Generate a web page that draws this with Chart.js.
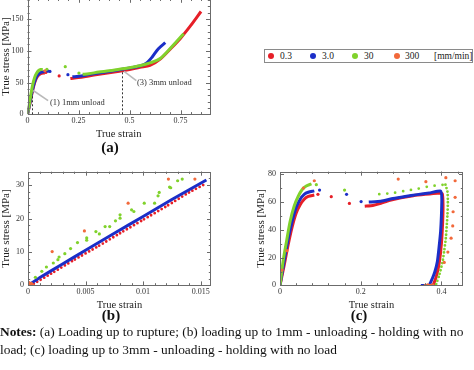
<!DOCTYPE html>
<html>
<head>
<meta charset="utf-8">
<script src="https://cdn.jsdelivr.net/npm/chart.js@4.4.1/dist/chart.umd.min.js"></script>
<style>
    body { margin: 0; width: 474px; height: 370px; overflow: hidden; background: #fff; position: relative;
           font-family: "Liberation Serif", "Times New Roman", serif; color: #222; }
    canvas { position: absolute; }
    .panel-tag { position: absolute; font-weight: bold; font-size: 15px; transform: translate(-50%, -50%); color: #111; }
    #legend { position: absolute; left: 264px; top: 49px; width: 207px; height: 12px; border: 1px solid #8a8a8a; font-size: 9.5px; }
    #legend span { position: absolute; top: 0; line-height: 12px; }
    #legend i { position: absolute; top: 3px; width: 6px; height: 6px; border-radius: 50%; }
    #notes { position: absolute; left: 0; top: 323px; width: 474px; font-size: 13.4px; line-height: 18px; color: #111; }
</style>
</head>
<body>
<canvas id="chartA" width="214" height="151" style="left:0;top:-10px"></canvas>
<canvas id="chartB" width="215" height="152" style="left:0;top:160px"></canvas>
<canvas id="chartC" width="212" height="152" style="left:255px;top:160px"></canvas>

<div class="panel-tag" style="left:110px;top:147px">(a)</div>
<div class="panel-tag" style="left:111px;top:315px">(b)</div>
<div class="panel-tag" style="left:359px;top:315px">(c)</div>

<div id="legend"></div>

<div id="notes"><b>Notes:</b> (a) Loading up to rupture; (b) loading up to 1mm - unloading - holding with no load; (c) loading up to 3mm - unloading - holding with no load</div>

<script>
// ============================================================================
// DATA
// ============================================================================

const rates = ['0.3', '3.0', '30', '300'];
const rateUnit = '[mm/min]';

// (a) loading up to rupture
const aTicksX = [0, 0.25, 0.5, 0.75];
const aTicksY = [0, 50, 100, 150];
const aRedRise = [[0, 0], [0.01, 14], [0.02, 30], [0.03, 44], [0.04, 54], [0.05, 60], [0.06, 63], [0.07, 64.5], [0.085, 65]];
const aBlueRise = [[0, 0], [0.01, 15], [0.02, 32], [0.03, 46], [0.04, 56], [0.05, 62], [0.06, 65], [0.07, 66.5], [0.085, 67.5]];
const aGreenRise = [[0, 0], [0.008, 14], [0.016, 30], [0.025, 46], [0.035, 58], [0.045, 65], [0.055, 69], [0.065, 70.5], [0.075, 70.5]];
const aRedMain = [[0.21, 56.5], [0.25, 58], [0.3, 60.5], [0.35, 63], [0.4, 65.5], [0.45, 68], [0.5, 70.5], [0.55, 74], [0.6, 77], [0.65, 87], [0.7, 103], [0.75, 120], [0.8, 140], [0.85, 162]];
const aBlueMain = [[0.22, 59], [0.25, 60], [0.3, 62.5], [0.35, 65], [0.4, 67.5], [0.45, 70], [0.5, 73], [0.55, 76], [0.58, 80], [0.61, 90], [0.64, 103], [0.675, 113]];
const aGreenMain = [[0.27, 63], [0.3, 64], [0.35, 66.5], [0.4, 68.5], [0.45, 71], [0.5, 73.5], [0.55, 76.5], [0.6, 81], [0.65, 88], [0.7, 104], [0.765, 127]];
const aRedDots = [[0.09, 66], [0.155, 60.5]];
const aBlueDots = [[0.1, 68], [0.11, 67.5], [0.198, 62.4]];
const aGreenDots = [[0.095, 71], [0.185, 75], [0.252, 65]];
const aOrangeDots = [[0.085, 68.5]];
const aUnloadMarks = [[0.023, 32], [0.465, 69]];
const aNoteText = ['(1) 1mm unload', '(3) 3mm unload'];
const aNoteAt = [[0.11, 18], [0.536, 49]];
const aNoteLeader = [[[0.101, 21.5], [0.028, 37.5]], [[0.533, 53], [0.473, 67.5]]];

// (b) loading up to 1mm
const bTicksX = [0, 0.005, 0.01, 0.015];
const bTicksY = [0, 10, 20, 30];
const bBlue = [[0, 0], [0.001, 2.3], [0.003, 6.4], [0.005, 10.5], [0.0075, 15.6], [0.01, 20.6], [0.0125, 25.7], [0.0155, 31.5]];
const bRed = [[0.0005, 0.5], [0.002, 3.5], [0.004, 7.6], [0.006, 11.5], [0.008, 15.6], [0.01, 19.6], [0.012, 23.6], [0.014, 27.8], [0.0155, 30.5]];
const bGreenDots = [[0.00064, 2.4], [0.0012, 4.2], [0.0016, 5.5], [0.0022, 6.7], [0.0026, 7.7], [0.0027, 8.5], [0.0032, 9.5],
    [0.0037, 11], [0.0043, 12.8], [0.0051, 14.2], [0.0051, 13.5], [0.0059, 16.1], [0.0062, 15.4], [0.0067, 17.6], [0.0071, 17.6],
    [0.0076, 19.3], [0.008, 21.1], [0.008, 20.1], [0.009, 22.6], [0.0092, 22.1], [0.0101, 24.6], [0.011, 24.6], [0.0113, 26.8],
    [0.0114, 27.8], [0.0123, 29.4], [0.0124, 29.2], [0.013, 31.3], [0.0134, 31.8]];
const bOrangeDots = [[0, 0], [0.0001, 0.4], [0.0002, 0.1], [0.0003, 0.6], [0.0004, 0.2], [0.0001, 0.8], [0.0021, 10.1],
    [0.0049, 16.3], [0.0087, 24.6], [0.0122, 31.8], [0.0145, 31.8]];

// (c) loading up to 3mm - unloading - holding
const cTicksX = [0, 0.2, 0.4];
const cTicksY = [0, 20, 40, 60, 80];
const cRedRise = [[0, 0], [0.01, 14], [0.02, 29], [0.03, 42], [0.04, 52], [0.05, 58], [0.06, 62], [0.07, 64], [0.085, 65]];
const cBlueRise = [[0, 0], [0.01, 17], [0.02, 33], [0.03, 46], [0.04, 56], [0.05, 62], [0.06, 65.5], [0.07, 67], [0.085, 68]];
const cGreenRise = [[0, 0], [0.008, 18], [0.017, 33], [0.025, 46], [0.035, 57], [0.045, 64], [0.055, 69], [0.065, 71.5], [0.078, 73]];
const cRedMain = [[0.21, 57], [0.23, 57.5], [0.25, 59], [0.27, 61], [0.3, 63], [0.33, 64.5], [0.36, 65.5], [0.39, 66.3], [0.402, 66],
    [0.404, 58], [0.403, 45], [0.4, 30], [0.395, 17], [0.388, 7], [0.382, 2], [0.378, 0], [0.358, 0]];
const cBlueMain = [[0.22, 60], [0.25, 60.5], [0.28, 62.5], [0.31, 64], [0.34, 65.3], [0.37, 66.5], [0.398, 67.9], [0.401, 62.7],
    [0.4, 50], [0.398, 38.7], [0.394, 27], [0.39, 17.2], [0.384, 10], [0.378, 5.3], [0.372, 1.5], [0.37, 0], [0.349, 0]];
const cGreenTop = [[0.246, 65.6], [0.28, 66.5], [0.31, 68], [0.34, 69.4], [0.365, 71], [0.39, 72], [0.41, 72.5]];
const cGreenDown = [[0.41, 72.5], [0.415, 67.4], [0.416, 60], [0.415, 50.7], [0.413, 42], [0.411, 34], [0.407, 25], [0.403, 17.2],
    [0.395, 7.7], [0.389, 2.5], [0.386, 0.5], [0.378, 0]];
const cRedDots = [[0.094, 65.5], [0.127, 63.8], [0.172, 59]];
const cBlueDots = [[0.098, 68.6], [0.165, 65.5], [0.201, 60.3]];
const cGreenDots = [[0.09, 72.5], [0.16, 68.6]];
const cOrangeDots = [[0.005, 11], [0.017, 25], [0.058, 70], [0.085, 75.3], [0.293, 76.5], [0.3615, 74.6], [0.411, 77.5], [0.434, 75.3],
    [0.434, 63.4], [0.429, 53], [0.428, 42.8], [0.424, 34], [0.416, 24], [0.407, 16.5], [0.36, 0], [0.366, 0.4], [0.372, 0], [0.378, 0.4]];

// ============================================================================
// STYLE
// ============================================================================

const FONT = '"Liberation Serif", "Times New Roman", serif';
const RED = '#e61f28';
const BLUE = '#1b2ec8';
const GREEN = '#80d22c';
const ORANGE = '#f2693b';
const FRAME = '#6b6b6b';

function pts(arr) {
    return arr.map(p => ({ x: p[0], y: p[1] }));
}

function curve(arr, color, order, extra) {
    return Object.assign({
        data: pts(arr), showLine: true, borderColor: color, backgroundColor: color,
        borderWidth: 3, pointRadius: 0, tension: 0.3, order: order
    }, extra || {});
}

function dotted(arr, color, order, gap) {
    return curve(arr, color, order, { borderWidth: 2.8, borderCapStyle: 'round', borderDash: [0, gap], tension: 0.2 });
}

function dots(arr, color, order) {
    return { data: pts(arr), showLine: false, pointRadius: 1.6, pointBorderWidth: 0, backgroundColor: color, order: order };
}

function steps(min, max, step) {
    const out = [];
    for (let v = min; v <= max + step / 100; v += step) out.push(v);
    return out;
}

// frame with inward ticks on all four sides (Mathematica style)
const framePlugin = {
    id: 'frame',
    afterDatasetsDraw(chart, args, o) {
        const { ctx, chartArea: a, scales } = chart;
        ctx.save();
        ctx.strokeStyle = FRAME;
        ctx.lineWidth = 1;
        ctx.strokeRect(Math.round(a.left) + 0.5, Math.round(a.top) + 0.5, Math.round(a.right - a.left) - 1, Math.round(a.bottom - a.top) - 1);
        ctx.beginPath();
        const tick = (vals, len, horiz) => vals.forEach(v => {
            if (horiz) {
                const px = Math.round(scales.x.getPixelForValue(v)) + 0.5;
                if (px < a.left + 1 || px > a.right - 1) return;
                ctx.moveTo(px, a.bottom); ctx.lineTo(px, a.bottom - len);
                ctx.moveTo(px, a.top); ctx.lineTo(px, a.top + len);
            } else {
                const py = Math.round(scales.y.getPixelForValue(v)) + 0.5;
                if (py < a.top + 1 || py > a.bottom - 1) return;
                ctx.moveTo(a.left, py); ctx.lineTo(a.left + len, py);
                ctx.moveTo(a.right, py); ctx.lineTo(a.right - len, py);
            }
        });
        tick(o.majorX, 4, true);
        tick(o.minorX, 2.2, true);
        tick(o.majorY, 4, false);
        tick(o.minorY, 2.2, false);
        ctx.stroke();
        ctx.restore();
    }
};

// dashed unload markers and their labels in panel (a)
const unloadPlugin = {
    id: 'unloadNotes',
    afterDatasetsDraw(chart, args, o) {
        if (!o.marks) return;
        const { ctx, scales: { x, y } } = chart;
        ctx.save();
        ctx.strokeStyle = '#333';
        ctx.lineWidth = 1;
        ctx.setLineDash([2, 2]);
        o.marks.forEach(m => {
            const px = Math.round(x.getPixelForValue(m[0])) + 0.5;
            ctx.beginPath();
            ctx.moveTo(px, y.getPixelForValue(0));
            ctx.lineTo(px, y.getPixelForValue(m[1]));
            ctx.stroke();
        });
        ctx.setLineDash([]);
        ctx.strokeStyle = '#b9b9b9';
        ctx.lineWidth = 1.6;
        o.leaders.forEach(l => {
            ctx.beginPath();
            ctx.moveTo(x.getPixelForValue(l[0][0]), y.getPixelForValue(l[0][1]));
            ctx.lineTo(x.getPixelForValue(l[1][0]), y.getPixelForValue(l[1][1]));
            ctx.stroke();
        });
        ctx.fillStyle = '#333';
        ctx.font = '8.5px ' + FONT;
        ctx.textBaseline = 'middle';
        o.texts.forEach((t, i) => {
            ctx.fillText(t, x.getPixelForValue(o.at[i][0]), y.getPixelForValue(o.at[i][1]));
        });
        ctx.restore();
    }
};

function buildChart(id, cfg) {
    const tickFont = { family: FONT, size: 8 };
    return new Chart(document.getElementById(id), {
        type: 'scatter',
        data: { datasets: cfg.datasets },
        options: {
            responsive: false,
            animation: false,
            events: [],
            layout: { padding: cfg.padding },
            plugins: {
                legend: { display: false },
                tooltip: { enabled: false },
                frame: { majorX: cfg.ticksX, majorY: cfg.ticksY, minorX: cfg.minorX, minorY: cfg.minorY },
                unloadNotes: cfg.notes || {}
            },
            scales: {
                x: {
                    type: 'linear', min: cfg.xMin, max: cfg.xMax,
                    afterFit: s => { s.height = cfg.xAxisHeight; },
                    afterBuildTicks: s => { s.ticks = cfg.ticksX.map(v => ({ value: v })); },
                    grid: { display: false, drawTicks: false },
                    border: { display: false },
                    ticks: { font: tickFont, color: '#333', padding: 2, maxRotation: 0, autoSkip: false, callback: v => String(v) },
                    title: { display: true, text: 'True strain', font: { family: FONT, size: 10.5 }, color: '#222', padding: 0 }
                },
                y: {
                    type: 'linear', min: 0, max: cfg.yMax,
                    afterFit: s => { s.width = cfg.yAxisWidth; },
                    afterBuildTicks: s => { s.ticks = cfg.ticksY.map(v => ({ value: v })); },
                    grid: { display: false, drawTicks: false },
                    border: { display: false },
                    ticks: { font: tickFont, color: '#333', padding: 4, autoSkip: false, callback: v => String(v) },
                    title: { display: true, text: 'True stress [MPa]', font: { family: FONT, size: 11 }, color: '#222', padding: 0 }
                }
            }
        },
        plugins: [framePlugin, unloadPlugin]
    });
}

// ============================================================================
// CHARTS
// ============================================================================

buildChart('chartA', {
    xMin: 0, xMax: 0.894, yMax: 182,
    ticksX: aTicksX, ticksY: aTicksY, minorX: steps(0, 0.894, 0.05), minorY: steps(0, 182, 10),
    yAxisWidth: 27.5, xAxisHeight: 26.7,
    padding: { left: 0, right: 2.3, top: 3, bottom: 0 },
    notes: { marks: aUnloadMarks, leaders: aNoteLeader, texts: aNoteText, at: aNoteAt },
    datasets: [
        dots(aOrangeDots, ORANGE, 1),
        curve(aGreenRise, GREEN, 2), curve(aGreenMain, GREEN, 2), dots(aGreenDots, GREEN, 2),
        curve(aBlueRise, BLUE, 3), curve(aBlueMain, BLUE, 3), dots(aBlueDots, BLUE, 3),
        curve(aRedRise, RED, 4), curve(aRedMain, RED, 4), dots(aRedDots, RED, 4)
    ]
});

buildChart('chartB', {
    xMin: 0, xMax: 0.0159, yMax: 34,
    ticksX: bTicksX, ticksY: bTicksY, minorX: steps(0, 0.0159, 0.001), minorY: steps(0, 34, 2),
    yAxisWidth: 28, xAxisHeight: 26.6,
    padding: { left: 0, right: 2.7, top: 11.7, bottom: 0 },
    datasets: [
        dots(bOrangeDots, ORANGE, 1),
        dots(bGreenDots, GREEN, 2),
        curve(bBlue, BLUE, 3, { tension: 0.1 }),
        dotted(bRed, RED, 4, 4)
    ]
});

buildChart('chartC', {
    xMin: 0, xMax: 0.4535, yMax: 81.8,
    ticksX: cTicksX, ticksY: cTicksY, minorX: steps(0, 0.4535, 0.04), minorY: steps(0, 81.8, 10),
    yAxisWidth: 25, xAxisHeight: 26.6,
    padding: { left: 0, right: 3, top: 11.7, bottom: 0 },
    datasets: [
        dots(cOrangeDots, ORANGE, 1),
        curve(cGreenRise, GREEN, 2), dotted(cGreenTop, GREEN, 2, 8), dotted(cGreenDown, GREEN, 2, 3.6), dots(cGreenDots, GREEN, 2),
        curve(cBlueRise, BLUE, 3), curve(cBlueMain, BLUE, 3, { tension: 0.15 }), dots(cBlueDots, BLUE, 3),
        curve(cRedRise, RED, 4), curve(cRedMain, RED, 4, { tension: 0.15 }), dots(cRedDots, RED, 4)
    ]
});

// ============================================================================
// LEGEND
// ============================================================================

(function buildLegend() {
    const legend = document.getElementById('legend');
    const colors = [RED, BLUE, GREEN, ORANGE];
    const dotLeft = [3, 45, 87, 129];
    const textLeft = [15, 57, 99, 140];
    rates.forEach((r, i) => {
        const dot = document.createElement('i');
        dot.style.left = dotLeft[i] + 'px';
        dot.style.background = colors[i];
        legend.appendChild(dot);
        const label = document.createElement('span');
        label.style.left = textLeft[i] + 'px';
        label.textContent = r;
        legend.appendChild(label);
    });
    const unit = document.createElement('span');
    unit.style.left = '169px';
    unit.textContent = rateUnit;
    legend.appendChild(unit);
})();
</script>
</body>
</html>
